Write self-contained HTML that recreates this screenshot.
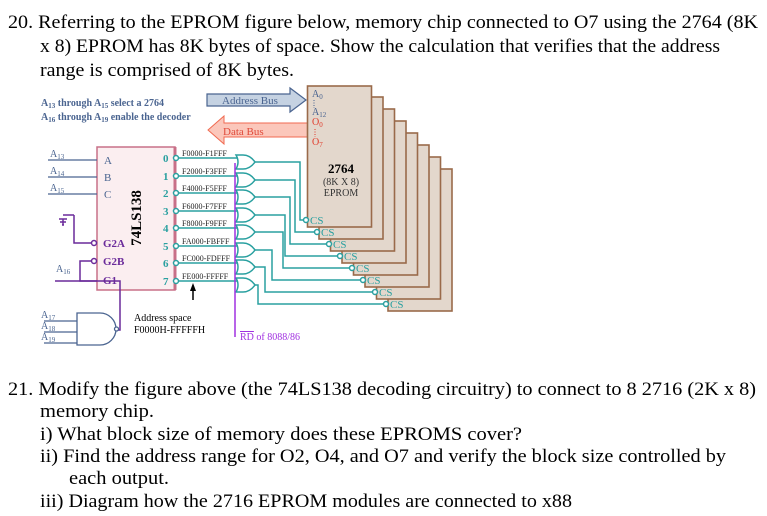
<!DOCTYPE html>
<html><head><style>body{margin:0;background:#fff}svg{display:block}</style></head><body>
<svg width="767" height="516" viewBox="0 0 767 516" xmlns="http://www.w3.org/2000/svg" font-family="Liberation Serif, serif">
<g font-size="19" fill="#000">
<text x="8" y="28" textLength="750" lengthAdjust="spacingAndGlyphs">20. Referring to the EPROM figure below, memory chip connected to O7 using the 2764 (8K</text>
<text x="40" y="52" textLength="680" lengthAdjust="spacingAndGlyphs">x 8) EPROM has 8K bytes of space. Show the calculation that verifies that the address</text>
<text x="40" y="76" textLength="254" lengthAdjust="spacingAndGlyphs">range is comprised of 8K bytes.</text>
<text x="8" y="395" textLength="748" lengthAdjust="spacingAndGlyphs">21. Modify the figure above (the 74LS138 decoding circuitry) to connect to 8 2716 (2K x 8)</text>
<text x="40" y="417" textLength="114" lengthAdjust="spacingAndGlyphs">memory chip.</text>
<text x="40" y="440" textLength="482" lengthAdjust="spacingAndGlyphs">i)  What block size of memory does these EPROMS cover?</text>
<text x="40" y="462" textLength="686" lengthAdjust="spacingAndGlyphs">ii)  Find the address range for O2, O4, and O7 and verify the block size controlled by</text>
<text x="69" y="484" textLength="100" lengthAdjust="spacingAndGlyphs">each output.</text>
<text x="40" y="507" textLength="532" lengthAdjust="spacingAndGlyphs">iii) Diagram how the 2716 EPROM modules are connected to x88</text>
</g>
<!-- header labels -->
<g font-size="10" font-weight="bold" fill="#4a6490">
<text x="41" y="106">A<tspan font-size="7" dy="2">13</tspan><tspan dy="-2"> through A</tspan><tspan font-size="7" dy="2">15</tspan><tspan dy="-2"> select a 2764</tspan></text>
<text x="41" y="120">A<tspan font-size="7" dy="2">16</tspan><tspan dy="-2"> through A</tspan><tspan font-size="7" dy="2">19</tspan><tspan dy="-2"> enable the decoder</tspan></text>
</g>
<!-- buses -->
<polygon points="207,94 290,94 290,88 306,100 290,112 290,106 207,106" fill="#c5d2e2" stroke="#4a6490" stroke-width="1.2"/>
<text x="222" y="104" font-size="11" fill="#4a6490">Address Bus</text>
<polygon points="308,123 224,123 224,116 208,130 224,144 224,137 308,137" fill="#fbc7bb" stroke="#f06a50" stroke-width="1"/>
<text x="223" y="135" font-size="11" fill="#e04a3a">Data Bus</text>
<!-- stacked chips -->
<g fill="#e3d7cc" stroke="#9a6a4a" stroke-width="1.6">
<rect x="388" y="169" width="64" height="142"/>
<rect x="376.5" y="157" width="64" height="142"/>
<rect x="365" y="145" width="64" height="142"/>
<rect x="353.5" y="133" width="64" height="142"/>
<rect x="342" y="121" width="64" height="142"/>
<rect x="330.5" y="109" width="64" height="142"/>
<rect x="319" y="97" width="64" height="142"/>
<rect x="307.5" y="86" width="64" height="141"/>
</g>
<g font-size="10" fill="#4a6490"><text x="312" y="97">A<tspan font-size="7" dy="2">0</tspan></text><text x="312" y="115">A<tspan font-size="7" dy="2">12</tspan></text></g>
<line x1="314" y1="100" x2="314" y2="108" stroke="#4a6490" stroke-dasharray="1,1.5"/>
<g font-size="10" fill="#e03a2a"><text x="312" y="125">O<tspan font-size="7" dy="2">0</tspan></text><text x="312" y="145">O<tspan font-size="7" dy="2">7</tspan></text></g>
<line x1="315" y1="129" x2="315" y2="137" stroke="#e03a2a" stroke-dasharray="1,1.5"/>
<text x="341" y="173" font-size="13" font-weight="bold" text-anchor="middle">2764</text>
<text x="341" y="185" font-size="10" text-anchor="middle" fill="#333">(8K X 8)</text>
<text x="341" y="196" font-size="10" text-anchor="middle" fill="#333">EPROM</text>
<!-- 74LS138 -->
<rect x="97" y="147" width="78" height="143" fill="#fbeef0" stroke="#c87088" stroke-width="1.5"/>
<line x1="175" y1="147" x2="175" y2="290" stroke="#c87088" stroke-width="3"/>
<text transform="translate(141,218) rotate(-90)" font-size="15" font-weight="bold" text-anchor="middle">74LS138</text>
<g stroke="#4a6490" stroke-width="1.2"><line x1="48" y1="160" x2="97" y2="160"/><line x1="48" y1="177" x2="97" y2="177"/><line x1="48" y1="194" x2="97" y2="194"/></g>
<g font-size="10" fill="#4a6490">
<text x="50" y="157">A<tspan font-size="7" dy="2">13</tspan></text>
<text x="50" y="174">A<tspan font-size="7" dy="2">14</tspan></text>
<text x="50" y="191">A<tspan font-size="7" dy="2">15</tspan></text>
<text x="104" y="164" font-size="11">A</text><text x="104" y="181" font-size="11">B</text><text x="104" y="198" font-size="11">C</text>
<text x="41" y="318">A<tspan font-size="7" dy="2">17</tspan></text>
<text x="41" y="329">A<tspan font-size="7" dy="2">18</tspan></text>
<text x="41" y="340">A<tspan font-size="7" dy="2">19</tspan></text>
<text x="56" y="272">A<tspan font-size="7" dy="2">16</tspan></text>
</g>
<!-- enable wiring purple -->
<g stroke="#6a2a9a" stroke-width="1.5" fill="none">
<line x1="63" y1="215" x2="74" y2="215"/><line x1="63" y1="219" x2="63" y2="225"/>
<line x1="59" y1="219" x2="67" y2="219"/><line x1="60" y1="222" x2="66" y2="222"/><line x1="62" y1="225" x2="64" y2="225"/>
<polyline points="74,215 74,243 92,243"/>
<polyline points="92,261 80,261 80,281 120,281 120,330 117,330"/>
<line x1="55" y1="281" x2="97" y2="281"/>
<circle cx="94" cy="243" r="2.5" fill="#fff"/><circle cx="94" cy="261" r="2.5" fill="#fff"/>
</g>
<g font-size="11" font-weight="bold" fill="#6a2a9a"><text x="103" y="247">G2A</text><text x="103" y="265">G2B</text><text x="103" y="284">G1</text></g>
<!-- NAND -->
<g stroke="#4a6490" stroke-width="1.3" fill="#fff">
<path d="M77,313 L100,313 A16,16 0 0 1 100,345 L77,345 Z"/>
<circle cx="116.5" cy="329" r="2"/>
<line x1="44" y1="321" x2="77" y2="321"/><line x1="44" y1="332" x2="77" y2="332"/><line x1="44" y1="343" x2="77" y2="343"/>
</g>
<!-- outputs -->
<g font-size="11" fill="#2aa0a0" font-weight="bold">
<text x="163" y="162">0</text><text x="163" y="180">1</text><text x="163" y="197">2</text><text x="163" y="215">3</text>
<text x="163" y="232">4</text><text x="163" y="250">5</text><text x="163" y="267">6</text><text x="163" y="285">7</text>
</g>
<g font-size="8" fill="#222">
<text x="182" y="156">F0000-F1FFF</text><text x="182" y="174">F2000-F3FFF</text><text x="182" y="191">F4000-F5FFF</text><text x="182" y="209">F6000-F7FFF</text>
<text x="182" y="226">F8000-F9FFF</text><text x="182" y="244">FA000-FBFFF</text><text x="182" y="261">FC000-FDFFF</text><text x="182" y="279">FE000-FFFFF</text>
</g>
<g stroke="#2aa0a0" stroke-width="1.5" fill="none">
<line x1="178" y1="158" x2="238" y2="158"/><line x1="178" y1="176" x2="238" y2="176"/><line x1="178" y1="193" x2="238" y2="193"/><line x1="178" y1="211" x2="238" y2="211"/>
<line x1="178" y1="228" x2="238" y2="228"/><line x1="178" y1="246" x2="238" y2="246"/><line x1="178" y1="263" x2="238" y2="263"/><line x1="178" y1="281" x2="238" y2="281"/>
<g fill="#fff"><circle cx="176" cy="158" r="2.5"/><circle cx="176" cy="176" r="2.5"/><circle cx="176" cy="193" r="2.5"/><circle cx="176" cy="211" r="2.5"/><circle cx="176" cy="228" r="2.5"/><circle cx="176" cy="246" r="2.5"/><circle cx="176" cy="263" r="2.5"/><circle cx="176" cy="281" r="2.5"/></g>
<!-- OR gates -->
<path d="M236,155 L243,155 Q250,155 255,162 Q250,169 243,169 L236,169 Q240,162 236,155 Z"/>
<path d="M236,173 L243,173 Q250,173 255,180 Q250,187 243,187 L236,187 Q240,180 236,173 Z"/>
<path d="M236,190 L243,190 Q250,190 255,197 Q250,204 243,204 L236,204 Q240,197 236,190 Z"/>
<path d="M236,208 L243,208 Q250,208 255,215 Q250,222 243,222 L236,222 Q240,215 236,208 Z"/>
<path d="M236,225 L243,225 Q250,225 255,232 Q250,239 243,239 L236,239 Q240,232 236,225 Z"/>
<path d="M236,243 L243,243 Q250,243 255,250 Q250,257 243,257 L236,257 Q240,250 236,243 Z"/>
<path d="M236,260 L243,260 Q250,260 255,267 Q250,274 243,274 L236,274 Q240,267 236,260 Z"/>
<path d="M236,278 L243,278 Q250,278 255,285 Q250,292 243,292 L236,292 Q240,285 236,278 Z"/>
<!-- routes -->
<polyline points="255,162 300,162 300,220 303,220"/>
<polyline points="255,180 295,180 295,232 315,232"/>
<polyline points="255,197 290,197 290,244 326,244"/>
<polyline points="255,215 285,215 285,256 338,256"/>
<polyline points="255,232 283,232 283,268 349,268"/>
<polyline points="255,250 272,250 272,280 361,280"/>
<polyline points="255,267 265,267 265,292 372,292"/>
<polyline points="255,285 258,285 258,304 384,304"/>
<g fill="#fff"><circle cx="306" cy="220" r="2.5"/><circle cx="317" cy="232" r="2.5"/><circle cx="329" cy="244" r="2.5"/><circle cx="340" cy="256" r="2.5"/><circle cx="352" cy="268" r="2.5"/><circle cx="363" cy="280" r="2.5"/><circle cx="375" cy="292" r="2.5"/><circle cx="386" cy="304" r="2.5"/></g>
</g>
<g font-size="11" fill="#2aa0a0">
<text x="310" y="224">CS</text><text x="321" y="236">CS</text><text x="333" y="248">CS</text><text x="344" y="260">CS</text>
<text x="356" y="272">CS</text><text x="367" y="284">CS</text><text x="379" y="296">CS</text><text x="390" y="308">CS</text>
</g>
<!-- RD line -->
<line x1="235" y1="163" x2="235" y2="337" stroke="#a030e0" stroke-width="1.5"/>
<text x="240" y="340" font-size="10" fill="#a030e0"><tspan text-decoration="overline">RD</tspan> of 8088/86</text>
<!-- address space -->
<line x1="193" y1="300" x2="193" y2="287" stroke="#000" stroke-width="1.5"/>
<polygon points="193,283 190,291 196,291" fill="#000"/>
<text x="134" y="321" font-size="10">Address space</text>
<text x="134" y="333" font-size="10">F0000H-FFFFFH</text>
</svg>
</body></html>
